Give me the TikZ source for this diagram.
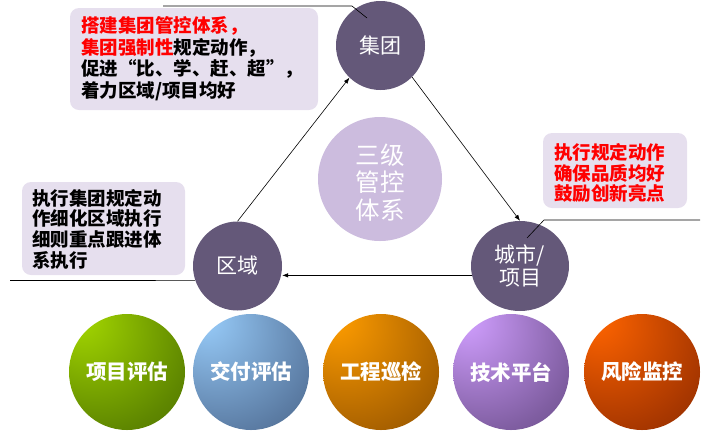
\documentclass[tikz,border=0pt]{standalone}
\usepackage{fontspec}
\newfontfamily\cjk{Noto Sans CJK SC}
\usetikzlibrary{arrows.meta,shapes.geometric}

\definecolor{boxfill}{RGB}{230,223,238}
\definecolor{darkc}{RGB}{100,88,121}
\definecolor{midc}{RGB}{204,188,222}
\definecolor{c1l}{RGB}{155,205,0}\definecolor{c1m}{RGB}{95,135,0}\definecolor{c1d}{RGB}{42,66,0}
\definecolor{c2l}{RGB}{145,195,240}\definecolor{c2m}{RGB}{92,125,165}\definecolor{c2d}{RGB}{36,50,70}
\definecolor{c3l}{RGB}{245,150,0}\definecolor{c3m}{RGB}{170,98,0}\definecolor{c3d}{RGB}{72,42,0}
\definecolor{c4l}{RGB}{200,152,245}\definecolor{c4m}{RGB}{128,94,162}\definecolor{c4d}{RGB}{52,38,74}
\definecolor{c5l}{RGB}{245,95,0}\definecolor{c5m}{RGB}{168,55,0}\definecolor{c5d}{RGB}{78,24,0}
\colorlet{ballA}{white}\colorlet{ballM}{gray}\colorlet{ballB}{black}

\pgfdeclareradialshading[ballA,ballM,ballB]{myball}{\pgfpoint{-22bp}{25bp}}{color(0bp)=(ballA); color(6bp)=(ballA); color(38bp)=(ballM); color(78bp)=(ballB)}

\tikzset{
 boxst/.style={fill=boxfill, rounded corners=9pt, inner sep=0pt},
 btxt/.style={anchor=base west, inner sep=0pt, font=\cjk\bfseries\fontsize{18.5}{21}\selectfont},
 darkcirc/.style={circle, fill=darkc, minimum size=89pt, inner sep=0pt, text=white, font=\cjk\fontsize{21}{23}\selectfont},
 ballst/.style n args={3}{circle, minimum size=116pt, inner sep=0pt, text=white,
   font=\cjk\bfseries\fontsize{20.5}{24}\selectfont, shading=myball,
   /utils/exec={\colorlet{ballA}{#1}\colorlet{ballM}{#2}\colorlet{ballB}{#3}}},
 arr/.style={-{Latex[length=6pt,width=4.5pt]}, line width=0.6pt},
 callout/.style={line width=0.6pt},
}

\begin{document}
\begin{tikzpicture}[x=1pt,y=-1pt]
\useasboundingbox (0,0) rectangle (714,432);

% text boxes
\node[boxst, minimum width=248pt, minimum height=102pt] (box1) at (194,59) {};
\node[boxst, minimum width=163pt, minimum height=93pt] (box2) at (103.5,228.5) {};
\node[boxst, minimum width=144pt, minimum height=75pt] (box3) at (615,170.5) {};

\node[btxt, text=red] (t11) at (81,32.5) {搭建集团管控体系，};
\node[btxt] (t12) at (81,54) {\textcolor{red}{集团强制性}规定动作，};
\node[btxt] (t13) at (81,75.5) {促进“比、学、赶、超”，};
\node[btxt] (t14) at (81,97) {着力区域/项目均好};

\node[btxt] (t21) at (32,205) {执行集团规定动};
\node[btxt] (t22) at (32,225.7) {作细化区域执行};
\node[btxt] (t23) at (32,246.4) {细则重点跟进体};
\node[btxt] (t24) at (32,267) {系执行};

\node[btxt, text=red] (t31) at (554,159) {执行规定动作};
\node[btxt, text=red] (t32) at (554,180) {确保品质均好};
\node[btxt, text=red] (t33) at (554,200.5) {鼓励创新亮点};

% centre
\node[circle, fill=midc, minimum size=124pt, inner sep=0pt] (ctr) at (380,179) {};
\node[text=white, align=center, inner sep=0pt, font=\cjk\fontsize{24.5}{27.5}\selectfont] (ctrtxt) at (380,182.5) {三级\\管控\\体系};

% three levels
\node[darkcirc] (jt) at (380.5,45.5) {集团};
\node[darkcirc] (qy) at (237.5,266) {区域};
\node[darkcirc, ellipse, minimum width=98pt, minimum height=90pt, align=center] (cs) at (520,266) {城市/\\项目};

% balls
\node[ballst={c1l}{c1m}{c1d}] (b1) at (127,372) {项目评估};
\node[ballst={c2l}{c2m}{c2d}] (b2) at (251,372) {交付评估};
\node[ballst={c3l}{c3m}{c3d}] (b3) at (381,372) {工程巡检};
\node[ballst={c4l}{c4m}{c4d}] (b4) at (511,372) {技术平台};
\node[ballst={c5l}{c5m}{c5d}] (b5) at (642,372) {风险监控};

% arrows
\draw[arr] (qy.north) -- (jt.226);
\draw[arr] (jt.-45) -- (cs.north);
\draw[arr] (cs.191) -- (cs.191 -| qy.east);

% callout lines
\coordinate (k1a) at (163,6);
\coordinate (k1b) at (352,6);
\coordinate (k1c) at (367,18);
\draw[callout] (k1a) -- (k1b) -- (k1c);
\coordinate (k2a) at (10,280.5);
\draw[callout] (k2a) -- (qy.199);
\coordinate (k3a) at (700,220);
\coordinate (k3b) at (544,220);
\coordinate (k3c) at (527,238);
\draw[callout] (k3a) -- (k3b) -- (k3c);
\end{tikzpicture}
\end{document}
